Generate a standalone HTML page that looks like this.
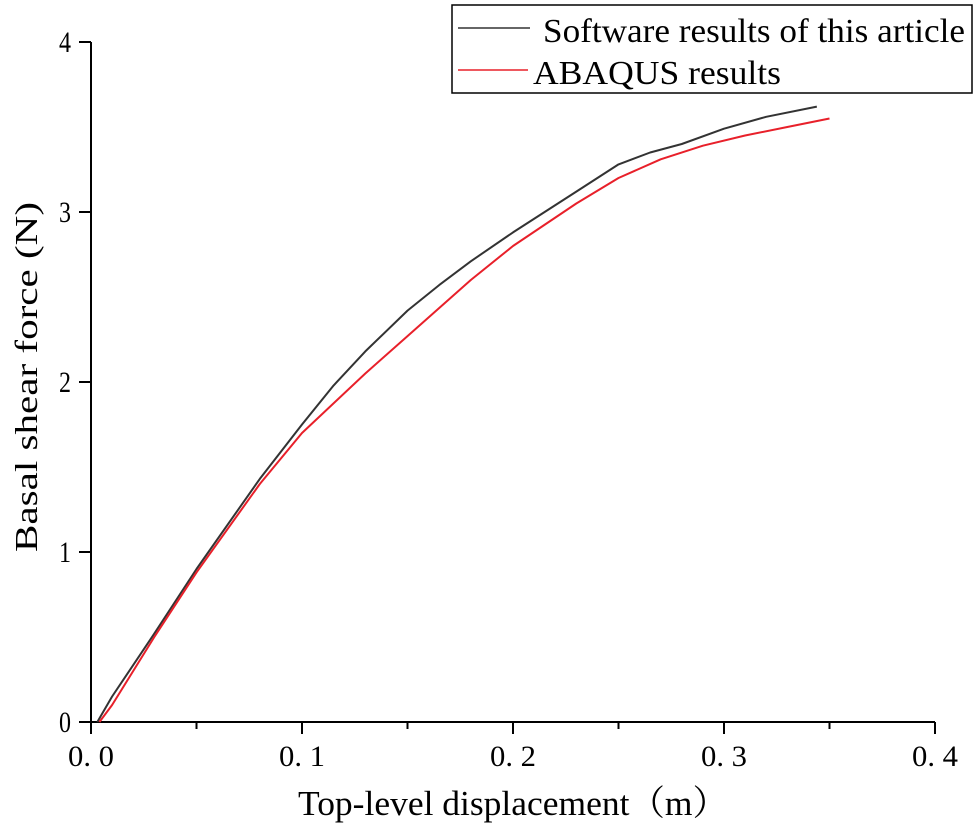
<!DOCTYPE html>
<html><head><meta charset="utf-8"><style>
body{margin:0;background:#fff}
svg text{font-family:"Liberation Serif","Noto Serif CJK SC",serif;fill:#000}
</style></head><body>
<svg id="c" width="975" height="829">
<g id="g"></g>
<rect x="452" y="5" width="520" height="88" fill="#fff" stroke="#000" stroke-width="1.5"/>
<line x1="458" y1="28" x2="530" y2="28" stroke="#333" stroke-width="1.5"/>
<text x="543" y="42" font-size="34" textLength="422" lengthAdjust="spacingAndGlyphs">Software results of this article</text>
<line x1="458" y1="70" x2="528" y2="70" stroke="#e8202a" stroke-width="1.5"/>
<text x="533" y="84" font-size="34" textLength="248" lengthAdjust="spacingAndGlyphs">ABAQUS results</text>
<text x="298" y="815" font-size="35" textLength="430" lengthAdjust="spacingAndGlyphs">Top-level displacement（m）</text>
<text transform="translate(37,552) rotate(-90)" font-size="32" textLength="350" lengthAdjust="spacingAndGlyphs">Basal shear force (N)</text>
</svg>
<script>
const xTicks=[0,0.1,0.2,0.3,0.4];
const xTickLabels=["0. 0","0. 1","0. 2","0. 3","0. 4"];
const yTicks=[0,1,2,3,4];
const yTickLabels=["0","1","2","3","4"];
const softX=[0.003,0.01,0.03,0.05,0.08,0.1,0.115,0.13,0.15,0.165,0.18,0.2,0.23,0.25,0.265,0.28,0.3,0.32,0.344];
const softY=[0,0.15,0.52,0.9,1.43,1.75,1.98,2.18,2.42,2.57,2.71,2.88,3.12,3.28,3.35,3.4,3.49,3.56,3.62];
const abaX=[0.004,0.01,0.03,0.05,0.08,0.1,0.13,0.15,0.18,0.2,0.23,0.25,0.27,0.29,0.31,0.33,0.35];
const abaY=[0,0.1,0.5,0.88,1.4,1.7,2.05,2.27,2.6,2.8,3.05,3.2,3.31,3.39,3.45,3.5,3.55];
const X0=91,X1=935,Y0=722,Y1=42;
const sx=v=>X0+(v-0)/(0.4)*(X1-X0);
const sy=v=>Y0-(v/4)*(Y0-Y1);
const g=document.getElementById('g');
const NS='http://www.w3.org/2000/svg';
function mk(t,a){const e=document.createElementNS(NS,t);for(const k in a)e.setAttribute(k,a[k]);g.appendChild(e);return e;}
let e;
e=mk('line',{x1:X0,y1:Y0,x2:X1,y2:Y0,stroke:'#000','stroke-width':2});


e=mk('line',{x1:X0,y1:Y0,x2:X0,y2:Y1,stroke:'#000','stroke-width':2});


xTicks.forEach((v,i)=>{
 e=mk('line',{x1:sx(v),y1:Y0,x2:sx(v),y2:Y0+12,stroke:'#000','stroke-width':2});
 
 
 if(i<xTicks.length-1){const m=(v+xTicks[i+1])/2;
 e=mk('line',{x1:sx(m),y1:Y0,x2:sx(m),y2:Y0+7,stroke:'#000','stroke-width':2});
 
 }
 e=mk('text',{x:sx(v)-23,y:Y0+44,'font-size':30,textLength:46,lengthAdjust:'spacingAndGlyphs'});e.textContent=xTickLabels[i];
 
 
});
yTicks.forEach((v,i)=>{
 e=mk('line',{x1:X0-12,y1:sy(v),x2:X0,y2:sy(v),stroke:'#000','stroke-width':2});
 
 
 e=mk('text',{x:X0-20,y:sy(v)+10,'font-size':30,'text-anchor':'end',textLength:12,lengthAdjust:'spacingAndGlyphs'});e.textContent=yTickLabels[i];
 
 
});
function line(xs,ys,c,n){
 e=mk('polyline',{points:xs.map((x,i)=>sx(x)+','+sy(ys[i])).join(' '),fill:'none',stroke:c,'stroke-width':2,'stroke-linejoin':'round'});
 
 
}
line(softX,softY,'#333','series-software');
line(abaX,abaY,'#e8202a','series-abaqus');
</script>
</body></html>
